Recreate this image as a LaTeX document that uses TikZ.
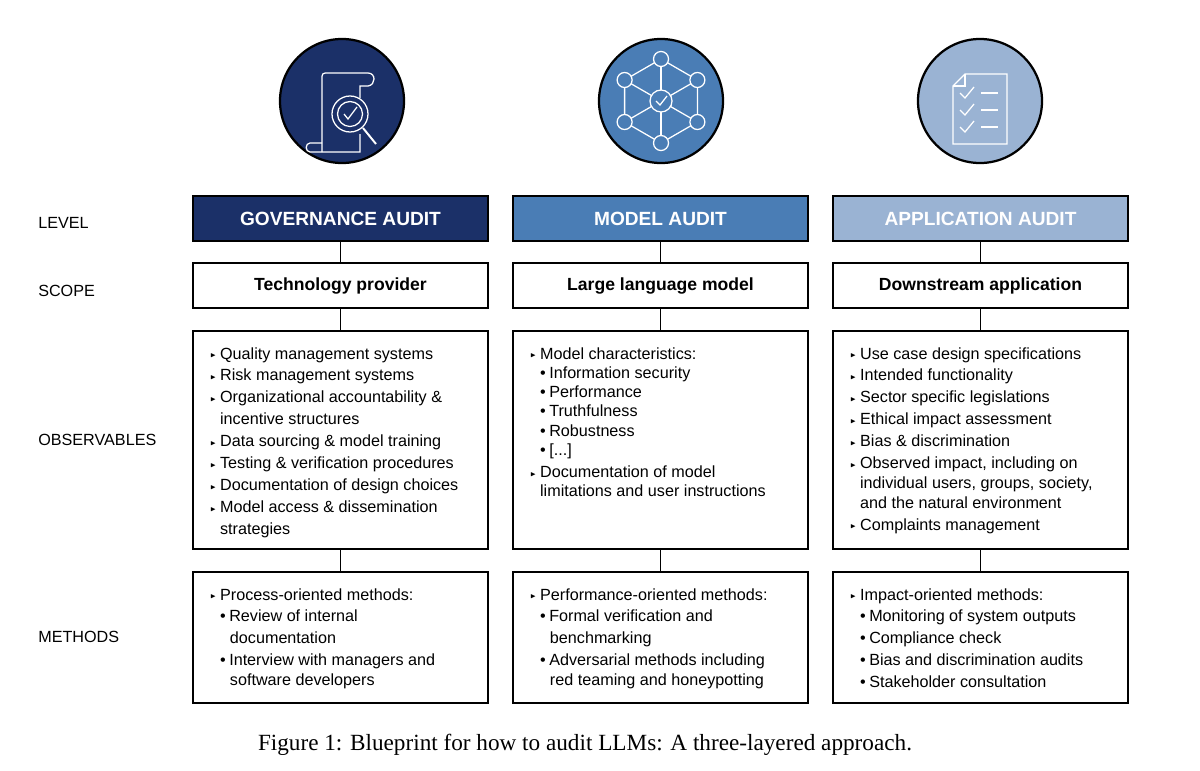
\documentclass[tikz,border=0pt]{standalone}
\usepackage{fontspec}
\setmainfont{Liberation Sans}
\newfontfamily\capfont{Liberation Serif}
\usepackage{amssymb}
\usetikzlibrary{calc}
\definecolor{govblue}{HTML}{1B3068}
\definecolor{modblue}{HTML}{4A7DB5}
\definecolor{appblue}{HTML}{9AB3D3}
\newcommand{\tri}{\makebox[7pt][l]{\raisebox{1pt}{\scalebox{0.45}{$\blacktriangleright$}}}}
\newcommand{\dotb}{\makebox[6.5pt][l]{\textbullet}}
\newcommand{\ind}{\hspace*{7pt}}
\begin{document}
\begin{tikzpicture}[x=0.025cm,y=-0.025cm,
  icon/.style={circle,draw=black,line width=1.6pt,minimum size=3.1cm,inner sep=0pt},
  box/.style={draw=black,line width=1.3pt,minimum width=7.375cm,inner sep=0pt},
  lvl/.style={box,line width=2pt,minimum height=1.125cm,text=white,font=\fontsize{13.6}{15}\selectfont\bfseries},
  scope/.style={box,minimum height=1.125cm,fill=white,font=\fontsize{12.5}{14}\selectfont\bfseries},
  txt/.style={anchor=north west,align=left,inner sep=0pt,font=\fontsize{11.5}{15.6}\selectfont},
  side/.style={anchor=west,inner sep=0pt,font=\fontsize{11.5}{14}\selectfont},
  link/.style={line width=1.3pt},
  ico/.style={white,line width=0.9pt}]
\useasboundingbox (0,0) rectangle (1200,770);

% icons
\node[icon,fill=govblue] (c1) at (342,101) {};
\node[icon,fill=modblue] (c2) at (661,101) {};
\node[icon,fill=appblue] (c3) at (980,101) {};

% governance icon: scroll and magnifier
\draw[ico] (322,152) -- (322,80) .. controls (322,73) .. (329,73) -- (368,73)
  .. controls (376,73) and (376,85) .. (368,86) -- (360,86) -- (360,98);
\draw[ico] (360,134) -- (360,152) -- (310,152) .. controls (305,152) and (305,143) .. (310,143) -- (322,143);
\draw[ico] (350,114) circle (18); \draw[ico] (350,114) circle (12.5);
\draw[ico] (344,114) -- (348,119) -- (357,107);
\draw[ico,line width=1.4pt] (363,128) -- (376,144);

% model icon: network
\foreach \a/\n in {90/a,30/b,-30/c,-90/d,-150/e,150/f}
  \coordinate (m\n) at ($(661,101)+(\a:1.05cm)$);
\draw[ico] (ma) -- (mb) -- (mc) -- (md) -- (me) -- (mf) -- (ma);
\foreach \n in {a,b,c,d,e,f} {\draw[ico] (m\n) -- (661,101); \filldraw[ico,fill=modblue] (m\n) circle (7.5);}
\filldraw[ico,fill=modblue] (661,101) circle (11);
\draw[ico] (656,101) -- (660,105) -- (667,96);

% application icon: checklist
\draw[ico] (965,74) -- (1007,74) -- (1007,144) -- (953,144) -- (953,86) -- cycle;
\draw[ico] (953,86) -- (965,86) -- (965,74);
\foreach \yy in {93,110,127} {
  \draw[ico] (960,\yy) -- (965,\yy+5) -- (974,\yy-6);
  \draw[ico] (981,\yy) -- (998,\yy);}

% side labels
\node[side] (lLevel) at (38,223) {LEVEL};
\node[side] (lScope) at (38,291) {SCOPE};
\node[side] (lObs) at (38,440) {OBSERVABLES};
\node[side] (lMeth) at (38,637) {METHODS};

% columns
\foreach \c/\xx/\col/\ti/\sc in {g/340.5/govblue/GOVERNANCE AUDIT/Technology provider,
    m/660.5/modblue/MODEL AUDIT/Large language model,
    a/980.5/appblue/APPLICATION AUDIT/Downstream application} {
  \node[lvl,fill=\col] (\c L) at (\xx,218.5) {\ti};
  \node[scope] (\c S) at (\xx,285.5) {\sc};
  \node[box,minimum height=5.45cm] (\c O) at (\xx,440) {};
  \node[box,minimum height=3.275cm] (\c M) at (\xx,637.5) {};
  \draw[link] (\c L) -- (\c S);
  \draw[link] (\c S) -- (\c O);
  \draw[link] (\c O) -- (\c M);
}

% observables
\node[txt] (gOt) at (210,347) {\tri Quality management systems\\ \tri Risk management systems\\
 \tri Organizational accountability \&\\ \ind incentive structures\\ \tri Data sourcing \& model training\\
 \tri Testing \& verification procedures\\ \tri Documentation of design choices\\
 \tri Model access \& dissemination\\ \ind strategies};
\node[txt,font=\fontsize{11.5}{13.7}\selectfont] (mOt) at (530,347) {\tri Model characteristics:\\
 \ind\dotb Information security\\ \ind\dotb Performance\\ \ind\dotb Truthfulness\\ \ind\dotb Robustness\\
 \ind\dotb [...]\\[2pt] \tri Documentation of model\\ \ind limitations and user instructions};
\node[txt] (aOt) at (850,347) {\tri Use case design specifications\\ \tri Intended functionality\\
 \tri Sector specific legislations\\ \tri Ethical impact assessment\\ \tri Bias \& discrimination\\
 \tri Observed impact, including on\\[-1.5pt] \ind individual users, groups, society,\\[-1.5pt] \ind and the natural environment\\
 \tri Complaints management};

% methods
\node[txt] (gMt) at (210,588) {\tri Process-oriented methods:\\ \ind\dotb Review of internal\\
 \ind\ind documentation\\ \ind\dotb Interview with managers and\\[-1.5pt] \ind\ind software developers};
\node[txt] (mMt) at (530,588) {\tri Performance-oriented methods:\\ \ind\dotb Formal verification and\\
 \ind\ind benchmarking\\ \ind\dotb Adversarial methods including\\[-1.5pt] \ind\ind red teaming and honeypotting};
\node[txt] (aMt) at (850,588) {\tri Impact-oriented methods:\\ \ind\dotb Monitoring of system outputs\\
 \ind\dotb Compliance check\\ \ind\dotb Bias and discrimination audits\\ \ind\dotb Stakeholder consultation};

\node[font=\capfont\fontsize{16.5}{19}\selectfont] (cap) at (585,745)
  {Figure 1: Blueprint for how to audit LLMs: A three-layered approach.};
\end{tikzpicture}
\end{document}
